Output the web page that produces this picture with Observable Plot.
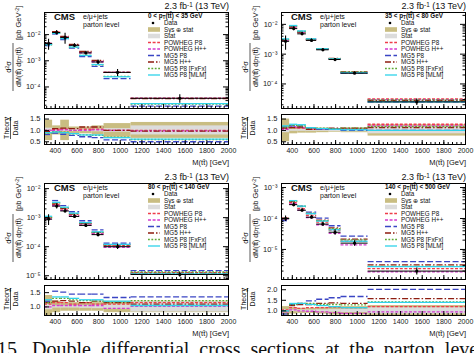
<!DOCTYPE html>
<html><head><meta charset="utf-8">
<script src="https://cdn.jsdelivr.net/npm/d3@7"></script>
<script src="https://cdn.jsdelivr.net/npm/@observablehq/plot@0.6"></script>
<style>
body{margin:0;background:#fff;}
#root{position:relative;width:474px;height:353px;overflow:hidden;font-family:"Liberation Sans",Arial,sans-serif;background:#fff;}
.abs{position:absolute;}
#caption{position:absolute;left:-3px;top:338px;font-family:"Liberation Serif","DejaVu Serif",serif;font-size:20px;white-space:nowrap;color:#111;word-spacing:5px;}
</style></head><body><div id="root"></div>
<script>
// ---------------- data ----------------
const edges = [300, 375, 450, 530, 625, 740, 850, 1100, 2000];
const xTickLabels = [400, 600, 800, 1000, 1200, 1400, 1600, 1800, 2000];
const models = ["POWHEG P8", "POWHEG H++", "MG5 P8", "MG5 H++", "MG5 P8 [FxFx]", "MG5 P8 [MLM]"];
const modelColors = ["#ee3d4a", "#d43ad0", "#3a45c4", "#8e1d10", "#5ea834", "#2ed3ea"];
const modelDash = ["3,1.6", "3,1.6", "6,2.5", "6,2,1.5,2", "1.8,1.6", null];
const ptLow = ["0", "35", "80", "140"];
const ptHigh = ["35", "80", "140", "500"];

// panel 1: 0 < pT < 35 GeV
const p1Data = [4.6e-3, 1.2e-2, 7.8e-3, 3.9e-3, 2.0e-3, 9.0e-4, 3.6e-4, 3.7e-5];
const p1Sys  = [0.45, 0.2, 0.45, 0.15, 0.15, 0.2, 0.3, 0.35];
const p1Stat = [0.1, 0.05, 0.05, 0.05, 0.05, 0.06, 0.08, 0.2];
const p1Ratio = [
  [1.0, 1.05, 1.05, 1.0, 1.05, 1.05, 1.0, 1.0],
  [1.0, 1.0, 1.02, 1.0, 1.0, 1.02, 1.0, 0.98],
  [0.82, 0.88, 0.83, 0.78, 0.72, 0.68, 0.58, 0.5],
  [0.95, 1.08, 1.1, 1.08, 1.15, 1.15, 1.0, 0.97],
  [0.88, 0.95, 0.92, 0.85, 0.8, 0.78, 0.7, 0.6],
  [0.9, 0.93, 0.9, 0.86, 0.8, 0.8, 0.68, 0.62]
];
// panel 2: 35 < pT < 80 GeV
const p2Data = [2.7e-3, 7.2e-3, 4.8e-3, 2.9e-3, 1.4e-3, 6.6e-4, 2.3e-4, 2.5e-5];
const p2Sys  = [0.5, 0.15, 0.12, 0.12, 0.1, 0.08, 0.1, 0.25];
const p2Stat = [0.1, 0.04, 0.04, 0.04, 0.04, 0.05, 0.06, 0.15];
const p2Ratio = [
  [1.1, 1.12, 1.1, 1.05, 1.05, 1.05, 1.05, 1.27],
  [1.05, 1.15, 1.12, 1.08, 1.05, 1.05, 1.05, 1.2],
  [1.15, 1.2, 1.2, 1.1, 1.05, 1.05, 1.0, 1.0],
  [1.1, 1.12, 1.15, 1.05, 1.08, 1.1, 1.1, 1.12],
  [1.15, 1.22, 1.2, 1.1, 1.1, 1.08, 1.1, 1.17],
  [1.2, 1.27, 1.25, 1.12, 1.08, 1.05, 1.03, 1.0]
];
// panel 3: 80 < pT < 140 GeV
const p3Data = [8.9e-4, 2.5e-3, 1.7e-3, 1.1e-3, 5.4e-4, 2.6e-4, 1.0e-4, 1.1e-5];
const p3Sys  = [0.4, 0.2, 0.15, 0.15, 0.15, 0.15, 0.2, 0.2];
const p3Stat = [0.1, 0.04, 0.04, 0.04, 0.05, 0.06, 0.08, 0.18];
const p3Ratio = [
  [1.1, 1.15, 1.15, 1.1, 1.15, 1.1, 1.1, 1.15],
  [1.0, 1.05, 1.05, 1.05, 1.05, 1.05, 0.95, 1.02],
  [1.2, 1.55, 1.52, 1.45, 1.45, 1.45, 1.33, 1.35],
  [1.15, 1.2, 1.22, 1.2, 1.15, 1.2, 1.15, 1.1],
  [1.15, 1.3, 1.3, 1.25, 1.22, 1.2, 1.18, 1.22],
  [1.25, 1.35, 1.35, 1.3, 1.25, 1.25, 1.2, 1.05]
];
// panel 4: 140 < pT < 500 GeV
const p4Data = [1.0e-4, 2.8e-4, 1.85e-4, 1.1e-4, 6.6e-5, 3.6e-5, 1.6e-5, 2.0e-6];
const p4Sys  = [0.2, 0.15, 0.12, 0.12, 0.15, 0.2, 0.2, 0.25];
const p4Stat = [0.06, 0.04, 0.04, 0.04, 0.05, 0.06, 0.08, 0.15];
const p4Ratio = [
  [1.05, 1.15, 1.12, 1.15, 1.15, 1.18, 1.15, 1.2],
  [0.95, 1.05, 1.0, 0.98, 0.95, 0.92, 0.88, 0.95],
  [0.85, 1.3, 1.35, 1.47, 1.55, 1.62, 1.68, 2.02],
  [1.0, 1.25, 1.3, 1.3, 1.35, 1.38, 1.35, 1.58],
  [1.0, 1.3, 1.35, 1.35, 1.3, 1.3, 1.28, 1.42],
  [1.0, 1.35, 1.35, 1.3, 1.25, 1.2, 1.15, 1.4]
];
const mainYDomains = [[1.5e-5, 7e-2], [1.5e-5, 2.5e-2], [7.4e-6, 1.5e-2], [1.07e-6, 1.35e-3]];
const ratioYDomains = [[0.38, 1.7], [0.38, 1.7], [0.7, 1.75], [0.78, 2.2]];
const ratioTicks = [[0.5, 1, 1.5], [0.5, 1, 1.5], [1, 1.5], [1, 1.5, 2]];

const panelsIn = [
  {data: p1Data, sys: p1Sys, stat: p1Stat, ratio: p1Ratio},
  {data: p2Data, sys: p2Sys, stat: p2Stat, ratio: p2Ratio},
  {data: p3Data, sys: p3Sys, stat: p3Stat, ratio: p3Ratio},
  {data: p4Data, sys: p4Sys, stat: p4Stat, ratio: p4Ratio}
];

// ---------------- layout constants ----------------
const SYS_COLOR = "#c9bd82", STAT_COLOR = "#dcdcdc";
const FONT = "'Liberation Sans', Arial, sans-serif";
const W = 237, ML = 44, MR = 9, INNER_W = W - ML - MR;
const MAIN_H = 110, MAIN_MT = 12, MAIN_MB = 2, MAIN_IH = MAIN_H - MAIN_MT - MAIN_MB;
const R_TOP = 112, R_MT = 2, R_IH = 30, R_MB = 14, R_H = R_MT + R_IH + R_MB;

const supMap = {"-": "\u207B", "0": "\u2070", "1": "\u00B9", "2": "\u00B2", "3": "\u00B3", "4": "\u2074", "5": "\u2075", "6": "\u2076", "7": "\u2077", "8": "\u2078", "9": "\u2079"};
const pow10 = d => "10" + String(Math.round(Math.log10(d))).split("").map(c => supMap[c]).join("");
const xMinor = d3.range(320, 2001, 40);

function binsOf(p) {
  return edges.slice(0, -1).map((lo, i) => ({lo, hi: edges[i + 1], c: (lo + edges[i + 1]) / 2, data: p.data[i], sys: p.sys[i], stat: p.stat[i]}));
}

function mainPlot(p, k) {
  const bins = binsOf(p);
  const dom = mainYDomains[k];
  const e0 = Math.floor(Math.log10(dom[0])), e1 = Math.ceil(Math.log10(dom[1]));
  const majors = [], minors = [];
  for (let e = e0; e <= e1; e++) {
    const v = Math.pow(10, e);
    if (v >= dom[0] && v <= dom[1]) majors.push(v);
    for (let m = 2; m <= 9; m++) { const u = m * v; if (u >= dom[0] && u <= dom[1]) minors.push(u); }
  }
  const marks = [];
  models.forEach((m, j) => {
    const rows = bins.map((b, i) => ({lo: b.lo, hi: b.hi, val: b.data * p.ratio[j][i]}));
    marks.push(Plot.ruleY(rows, {x1: "lo", x2: "hi", y: "val", stroke: modelColors[j], strokeWidth: 1.3, strokeDasharray: modelDash[j], clip: true}));
  });
  marks.push(
    Plot.ruleY(bins, {x1: "lo", x2: "hi", y: "data", stroke: "black", strokeWidth: 1}),
    Plot.ruleX(bins, {x: "c", y1: d => d.data * (1 - d.sys), y2: d => d.data * (1 + d.sys), stroke: "black", strokeWidth: 1.1}),
    Plot.dot(bins, {x: "c", y: "data", r: 1.6, fill: "black"}),
    Plot.tickY(majors, {y: d => d, insetRight: INNER_W - 5, stroke: "black"}),
    Plot.tickY(minors, {y: d => d, insetRight: INNER_W - 2.5, stroke: "black"}),
    Plot.tickY(majors, {y: d => d, insetLeft: INNER_W - 5, stroke: "black"}),
    Plot.tickY(minors, {y: d => d, insetLeft: INNER_W - 2.5, stroke: "black"}),
    Plot.tickX(xTickLabels, {x: d => d, insetTop: MAIN_IH - 4, stroke: "black"}),
    Plot.tickX(xMinor, {x: d => d, insetTop: MAIN_IH - 2, stroke: "black"}),
    Plot.axisY({ticks: majors, tickSize: 0, tickPadding: 4, tickFormat: pow10, fontSize: 7.5}),
    Plot.frame({stroke: "black", strokeWidth: 1})
  );
  return Plot.plot({
    width: W, height: MAIN_H, marginLeft: ML, marginRight: MR, marginTop: MAIN_MT, marginBottom: MAIN_MB,
    x: {domain: [300, 2000], axis: null},
    y: {type: "log", domain: dom, axis: null},
    style: {fontFamily: FONT, fontSize: "7.5px", background: "transparent", overflow: "visible", color: "#222"},
    marks
  });
}

function ratioPlot(p, k) {
  const bins = binsOf(p);
  const dom = ratioYDomains[k];
  const marks = [
    Plot.rect(bins, {x1: "lo", x2: "hi", y1: d => 1 - d.sys, y2: d => 1 + d.sys, fill: SYS_COLOR, clip: true}),
    Plot.rect(bins, {x1: "lo", x2: "hi", y1: d => 1 - d.stat, y2: d => 1 + d.stat, fill: STAT_COLOR, clip: true})
  ];
  models.forEach((m, j) => {
    const rows = bins.map((b, i) => ({lo: b.lo, hi: b.hi, r: p.ratio[j][i]}));
    marks.push(Plot.ruleY(rows, {x1: "lo", x2: "hi", y: "r", stroke: modelColors[j], strokeWidth: 1.3, strokeDasharray: modelDash[j], clip: true}));
  });
  marks.push(
    Plot.tickX(xTickLabels, {x: d => d, insetTop: R_IH - 4, stroke: "black"}),
    Plot.tickX(xMinor, {x: d => d, insetTop: R_IH - 2, stroke: "black"}),
    Plot.tickY(ratioTicks[k], {y: d => d, insetRight: INNER_W - 5, stroke: "black"}),
    Plot.axisY({ticks: ratioTicks[k], tickSize: 0, tickPadding: 4, fontSize: 7.5}),
    Plot.axisX({ticks: xTickLabels, tickSize: 0, tickPadding: 4, fontSize: 7, label: null, tickFormat: d => String(d)}),
    Plot.frame({stroke: "black", strokeWidth: 1})
  );
  return Plot.plot({
    width: W, height: R_H, marginLeft: ML, marginRight: MR, marginTop: R_MT, marginBottom: R_MB,
    x: {domain: [300, 2000], axis: null},
    y: {domain: dom, axis: null},
    style: {fontFamily: FONT, fontSize: "7.5px", background: "transparent", overflow: "visible", color: "#222"},
    marks
  });
}

const NS = "http://www.w3.org/2000/svg";
function el(tag, attrs, parent, text) {
  const e = document.createElementNS(NS, tag);
  for (const a in attrs) e.setAttribute(a, attrs[a]);
  if (text != null) e.textContent = text;
  if (parent) parent.appendChild(e);
  return e;
}
function richText(parent, attrs, parts) {
  const t = el("text", attrs, parent);
  for (const [s, kind] of parts) {
    const ts = el("tspan", {}, t, s);
    if (kind === "sub") { ts.setAttribute("baseline-shift", "-25%"); ts.setAttribute("font-size", "75%"); }
    if (kind === "sup") { ts.setAttribute("baseline-shift", "40%"); ts.setAttribute("font-size", "70%"); }
  }
  return t;
}
const TTBAR = "tt\u0304";

function overlay(k) {
  const svg = el("svg", {width: W, height: 172, style: `font-family:${FONT};overflow:visible`});
  const g = el("g", {fill: "#111"}, svg);
  richText(g, {x: ML + INNER_W + 1, y: 9, "text-anchor": "end", "font-size": 9}, [["2.3 fb", null], ["-1", "sup"], [" (13 TeV)", null]]);
  el("text", {x: 54, y: 20, "font-size": 9.5, "font-weight": "bold"}, g, "CMS");
  el("text", {x: 83, y: 19, "font-size": 7}, g, "e/\u03BC+jets");
  el("text", {x: 83, y: 27, "font-size": 7}, g, "parton level");
  // legend
  const lx = 148, tx = 164;
  richText(g, {x: lx, y: 18, "font-size": 6.3, "font-weight": "bold"}, [[ptLow[k] + " < p", null], ["T", "sub"], ["(" + TTBAR + ") < " + ptHigh[k] + " GeV", null]]);
  const ys = d3.range(9).map(i => 23 + 6.5 * i);
  el("circle", {cx: lx + 5, cy: ys[0], r: 1.3, fill: "black"}, g);
  el("text", {x: tx, y: ys[0] + 2.3, "font-size": 6.3}, g, "Data");
  el("rect", {x: lx, y: ys[1] - 2.3, width: 12, height: 4.6, fill: SYS_COLOR}, g);
  el("text", {x: tx, y: ys[1] + 2.3, "font-size": 6.3}, g, "Sys \u2295 stat");
  el("rect", {x: lx, y: ys[2] - 2.3, width: 12, height: 4.6, fill: STAT_COLOR}, g);
  el("text", {x: tx, y: ys[2] + 2.3, "font-size": 6.3}, g, "Stat");
  models.forEach((m, j) => {
    const y = ys[3 + j];
    const ln = el("line", {x1: lx, x2: lx + 12, y1: y, y2: y, stroke: modelColors[j], "stroke-width": 1.3}, g);
    if (modelDash[j]) ln.setAttribute("stroke-dasharray", modelDash[j]);
    el("text", {x: tx, y: y + 2.3, "font-size": 6.3}, g, m);
  });
  // y label main
  const cy = 67;
  richText(g, {transform: `translate(11,${cy}) rotate(-90)`, "text-anchor": "middle", "font-size": 7.5}, [["d", null], ["2", "sup"], ["\u03C3", null]]);
  el("line", {x1: 13, x2: 13, y1: cy - 24, y2: cy + 24, stroke: "#111", "stroke-width": 0.7}, g);
  richText(g, {transform: `translate(20.5,${cy}) rotate(-90)`, "text-anchor": "middle", "font-size": 7}, [["dM(" + TTBAR + ") dp", null], ["T", "sub"], ["(" + TTBAR + ")", null]]);
  richText(g, {transform: `translate(20.5,40) rotate(-90)`, "text-anchor": "start", "font-size": 7.5}, [["[pb GeV", null], ["-2", "sup"], ["]", null]]);
  // ratio y label
  const rc = 128;
  el("text", {transform: `translate(9,${rc}) rotate(-90)`, "text-anchor": "middle", "font-size": 7}, g, "Theory");
  el("line", {x1: 10.5, x2: 10.5, y1: rc - 11, y2: rc + 11, stroke: "#111", "stroke-width": 0.7}, g);
  el("text", {transform: `translate(17.5,${rc}) rotate(-90)`, "text-anchor": "middle", "font-size": 7}, g, "Data");
  // x label
  richText(g, {x: ML + INNER_W + 1, y: 165, "text-anchor": "end", "font-size": 7.5}, [["M(" + TTBAR + ") [GeV]", null]]);
  return svg;
}

const root = document.getElementById("root");
const offs = [[0, 0], [237, 0], [0, 171], [237, 171]];
panelsIn.forEach((p, k) => {
  const [ox, oy] = offs[k];
  const m = mainPlot(p, k);
  m.classList.add("abs"); m.style.left = ox + "px"; m.style.top = oy + "px";
  root.appendChild(m);
  const r = ratioPlot(p, k);
  r.classList.add("abs"); r.style.left = ox + "px"; r.style.top = (oy + R_TOP) + "px";
  root.appendChild(r);
  const o = overlay(k);
  o.classList.add("abs"); o.style.left = ox + "px"; o.style.top = oy + "px";
  root.appendChild(o);
});
const cap = document.createElement("div");
cap.id = "caption";
cap.textContent = "15.  Double differential cross sections at the parton level as a function of (t";
root.appendChild(cap);
</script></body></html>
